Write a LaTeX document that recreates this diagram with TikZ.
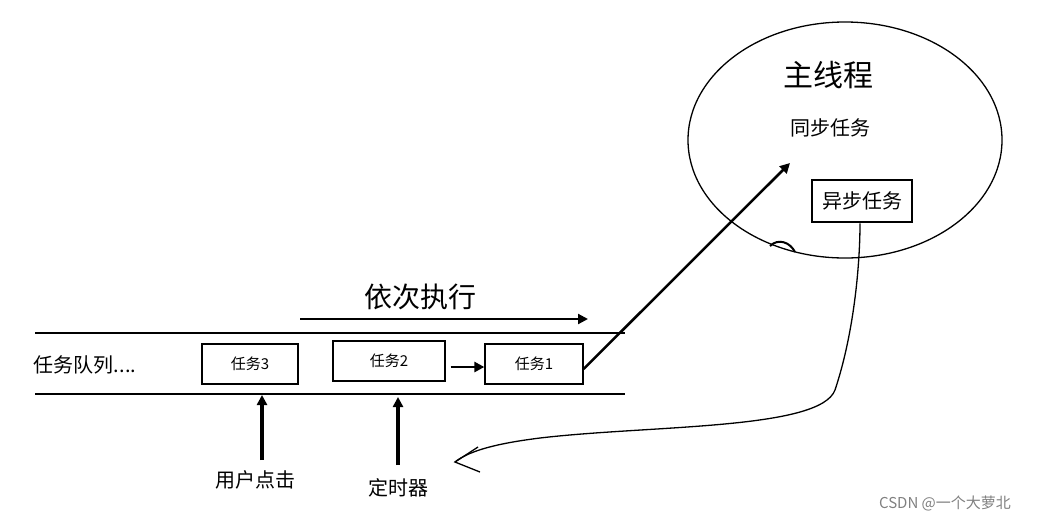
\documentclass[tikz,border=0pt]{standalone}
\usepackage{fontspec}
\setmainfont{Noto Sans CJK SC}
\usetikzlibrary{arrows.meta,shapes.geometric}
\begin{document}
\begin{tikzpicture}[x=1pt,y=-1pt,
  tbox/.style={draw,line width=1.3pt,minimum width=96pt,minimum height=40pt,inner sep=0pt,font=\fontsize{15}{17}\selectfont},
  arr/.style={line width=2.5pt,-{Triangle[length=10pt,width=10pt]}},
  lab/.style={font=\fontsize{20}{22}\selectfont}]
\useasboundingbox (0,0) rectangle (1048,523);
\node[draw,line width=1.3pt,ellipse,minimum width=314pt,minimum height=236pt] (main) at (845,140) {};
\node[font=\fontsize{30}{32}\selectfont] (mt) at (828,75) {主线程};
\node[lab] (sync) at (830,128) {同步任务};
\node[draw,line width=2.5pt,minimum width=100pt,minimum height=42pt,lab,inner sep=0pt] (async) at (862,201) {异步任务};
\coordinate (l1a) at (35,333); \coordinate (l1b) at (625,333);
\coordinate (l2a) at (35,394); \coordinate (l2b) at (625,394);
\draw[line width=1.5pt] (l1a) -- (l1b);
\draw[line width=1.5pt] (l2a) -- (l2b);
\node[lab] (queue) at (85,365) {任务队列....};
\node[tbox] (t3) at (250,364) {任务3};
\node[tbox,minimum width=112pt] (t2) at (389,361) {任务2};
\node[tbox,minimum width=98pt] (t1) at (534,364) {任务1};
\draw[arr] ([xshift=5pt,yshift=-6pt]t2.east) -- ([yshift=-3pt]t1.west);
\draw[arr] ([yshift=-5pt]t1.east) -- (790,163) coordinate (toMain);
\node[font=\fontsize{28}{30}\selectfont] (seq) at (420,297) {依次执行};
\coordinate (sa) at (300,319); \coordinate (sb) at (588,319);
\draw[arr,line width=2.2pt] (sa) -- (sb);
\node[lab] (click) at (255,480) {用户点击};
\node[lab] (timer) at (398,488) {定时器};
\draw[arr,line width=3.5pt] (262,460) -- (262,395);
\draw[arr,line width=3.5pt] (398,465) -- (398,397);
\draw[line width=1.3pt] ([xshift=-2pt]async.south) .. controls (860,260) and (855,330) .. (835,390)
  .. controls (820,430) and (650,425) .. (540,438) .. controls (500,443) and (470,450) .. (455,462);
\draw[line width=1.3pt] (478,447) -- (455,462) -- (480,472);
\draw[line width=2pt] (770,246) .. controls (778,238) and (790,242) .. (795,252);
\node[text=gray,font=\fontsize{15}{17}\selectfont] (wm) at (945,503) {CSDN @一个大萝北};
\end{tikzpicture}
\end{document}
